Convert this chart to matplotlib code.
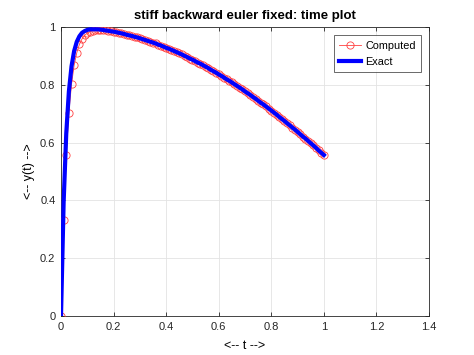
import matplotlib
matplotlib.use("Agg")
import matplotlib.pyplot as plt

plt.rcParams['font.family'] = ['Liberation Sans', 'DejaVu Sans']

t_values = [0.00, 0.01, 0.02, 0.03, 0.04, 0.05, 0.06, 0.07, 0.08, 0.09,
            0.10, 0.11, 0.12, 0.13, 0.14, 0.15, 0.16, 0.17, 0.18, 0.19,
            0.20, 0.21, 0.22, 0.23, 0.24, 0.25, 0.26, 0.27, 0.28, 0.29,
            0.30, 0.31, 0.32, 0.33, 0.34, 0.35, 0.36, 0.37, 0.38, 0.39,
            0.40, 0.41, 0.42, 0.43, 0.44, 0.45, 0.46, 0.47, 0.48, 0.49,
            0.50, 0.51, 0.52, 0.53, 0.54, 0.55, 0.56, 0.57, 0.58, 0.59,
            0.60, 0.61, 0.62, 0.63, 0.64, 0.65, 0.66, 0.67, 0.68, 0.69,
            0.70, 0.71, 0.72, 0.73, 0.74, 0.75, 0.76, 0.77, 0.78, 0.79,
            0.80, 0.81, 0.82, 0.83, 0.84, 0.85, 0.86, 0.87, 0.88, 0.89,
            0.90, 0.91, 0.92, 0.93, 0.94, 0.95, 0.96, 0.97, 0.98, 0.99,
            1.00]

computed_y = [0.000, 0.333, 0.556, 0.704, 0.802, 0.868, 0.911, 0.940, 0.959, 0.971,
              0.979, 0.984, 0.987, 0.989, 0.989, 0.989, 0.988, 0.988, 0.986, 0.985,
              0.983, 0.982, 0.980, 0.978, 0.976, 0.973, 0.971, 0.969, 0.966, 0.964,
              0.961, 0.958, 0.955, 0.952, 0.949, 0.946, 0.943, 0.939, 0.936, 0.932,
              0.928, 0.925, 0.921, 0.917, 0.913, 0.909, 0.905, 0.900, 0.896, 0.891,
              0.887, 0.882, 0.877, 0.873, 0.868, 0.863, 0.858, 0.852, 0.847, 0.842,
              0.836, 0.831, 0.825, 0.819, 0.814, 0.808, 0.802, 0.796, 0.790, 0.784,
              0.777, 0.771, 0.765, 0.758, 0.752, 0.745, 0.738, 0.732, 0.725, 0.718,
              0.711, 0.704, 0.697, 0.689, 0.682, 0.675, 0.667, 0.660, 0.652, 0.645,
              0.637, 0.629, 0.621, 0.614, 0.606, 0.598, 0.590, 0.582, 0.573, 0.565,
              0.557]

exact_y = [0.000, 0.394, 0.632, 0.777, 0.864, 0.917, 0.949, 0.968, 0.980, 0.986,
           0.990, 0.992, 0.992, 0.992, 0.992, 0.991, 0.990, 0.988, 0.987, 0.985,
           0.984, 0.982, 0.980, 0.978, 0.976, 0.973, 0.971, 0.969, 0.966, 0.964,
           0.961, 0.958, 0.955, 0.952, 0.949, 0.946, 0.943, 0.939, 0.936, 0.932,
           0.928, 0.925, 0.921, 0.917, 0.913, 0.909, 0.905, 0.900, 0.896, 0.891,
           0.887, 0.882, 0.877, 0.873, 0.868, 0.863, 0.858, 0.852, 0.847, 0.842,
           0.836, 0.831, 0.825, 0.819, 0.814, 0.808, 0.802, 0.796, 0.790, 0.784,
           0.777, 0.771, 0.765, 0.758, 0.752, 0.745, 0.738, 0.732, 0.725, 0.718,
           0.711, 0.704, 0.697, 0.689, 0.682, 0.675, 0.667, 0.660, 0.652, 0.645,
           0.637, 0.629, 0.621, 0.614, 0.606, 0.598, 0.590, 0.582, 0.573, 0.565,
           0.557]

x_ticks = [0, 0.2, 0.4, 0.6, 0.8, 1.0, 1.2, 1.4]
x_tick_labels = ['0', '0.2', '0.4', '0.6', '0.8', '1', '1.2', '1.4']
y_ticks = [0, 0.2, 0.4, 0.6, 0.8, 1.0]
y_tick_labels = ['0', '0.2', '0.4', '0.6', '0.8', '1']

fig = plt.figure(figsize=(4.74, 3.55), dpi=100)
ax = fig.add_axes([0.1287, 0.1099, 0.7764, 0.814])

ax.plot(t_values, computed_y, color='#ff4040', linewidth=0.6, marker='o',
        markersize=5.2, markerfacecolor='none', markeredgewidth=0.6,
        label='Computed', zorder=3)
ax.plot(t_values, exact_y, color='#0000ff', linewidth=3, label='Exact', zorder=4)

ax.set_xlim(0, 1.4)
ax.set_ylim(0, 1)
ax.set_xticks(x_ticks)
ax.set_xticklabels(x_tick_labels)
ax.set_yticks(y_ticks)
ax.set_yticklabels(y_tick_labels)
ax.tick_params(direction='in', length=3, width=0.6, labelsize=8, colors='#262626',
               top=True, right=True, pad=4)
ax.grid(True, color='#e3e3e3', linewidth=0.6)
ax.set_axisbelow(True)
for sp in ax.spines.values():
    sp.set_color('#262626')
    sp.set_linewidth(0.6)

ax.set_title('stiff backward euler fixed: time plot', fontsize=9.5, fontweight='bold', pad=6)
ax.set_xlabel('<-- t -->', fontsize=9, labelpad=6)
ax.set_ylabel('<-- y(t) -->', fontsize=9, labelpad=4)

leg = ax.legend(loc='upper right', fontsize=7.8, frameon=True, fancybox=False,
                edgecolor='#262626', borderpad=0.5, handlelength=2.0,
                handletextpad=0.4, labelspacing=0.6, borderaxespad=0,
                bbox_to_anchor=(0.9785, 0.972))
leg.get_frame().set_linewidth(0.6)

fig.savefig('out.png', dpi=100)
